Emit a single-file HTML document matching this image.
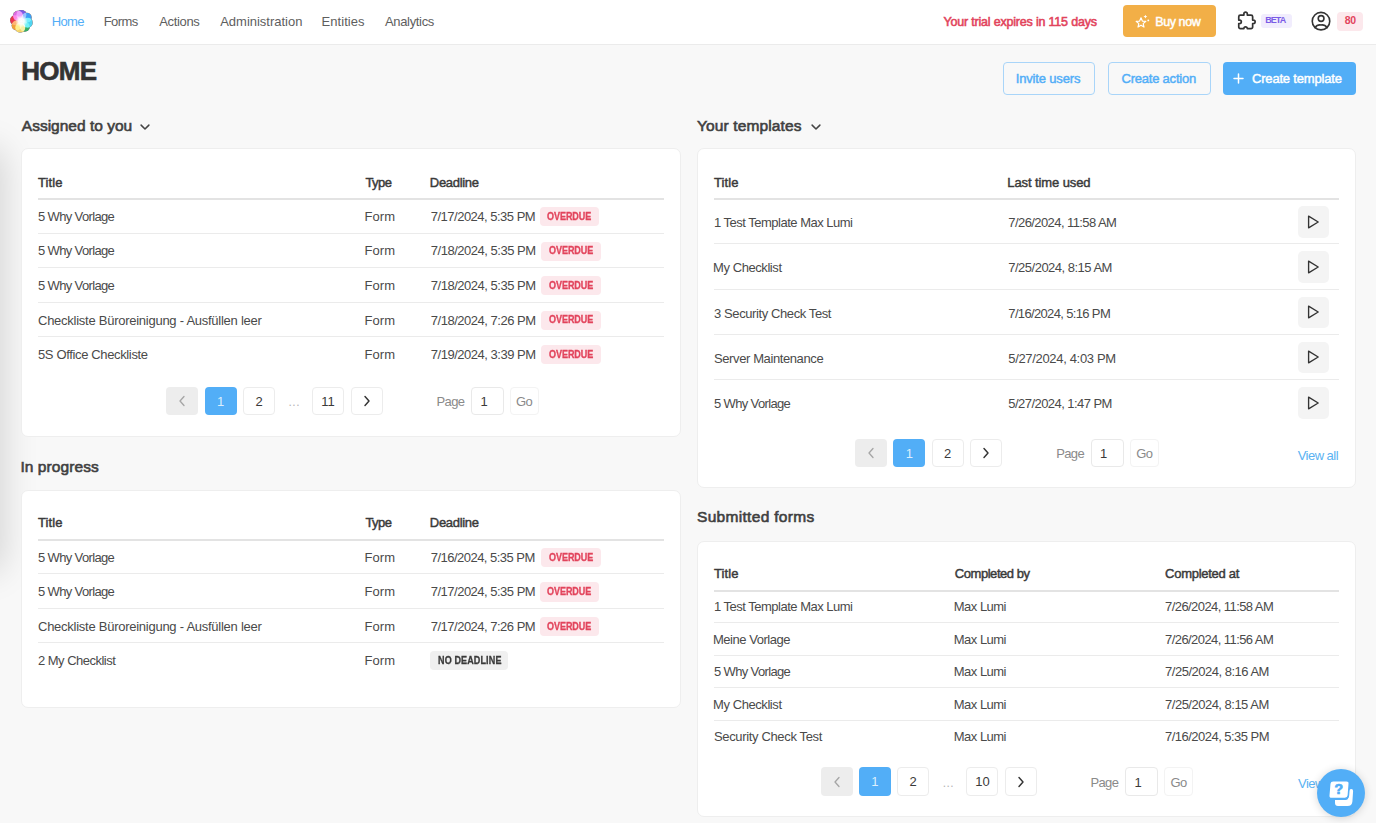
<!DOCTYPE html>
<html><head><meta charset="utf-8"><title>Home</title>
<style>
html,body{margin:0;padding:0;}
body{width:1376px;height:823px;overflow:hidden;background:#F8F8F8;position:relative;font-family:"Liberation Sans", sans-serif;}
.t{position:absolute;white-space:nowrap;line-height:1;}
.r{position:absolute;}
.c{text-align:center;}
</style></head><body>
<div class="r" style="left:-30px;top:150px;width:30px;height:420px;border-radius:15px;box-shadow:0 0 34px 4px rgba(0,0,0,0.15)"></div>
<div class="r" style="left:0.0px;top:0.0px;width:1376.0px;height:44.0px;background:#fff;border-bottom:1px solid #EBEBEB;"></div>
<svg class="r" style="left:9px;top:9px" width="25" height="25" viewBox="0 0 25 25">
<defs><mask id="lm"><circle cx="12.40" cy="5.90" r="5.0" fill="#fff"/><circle cx="17.64" cy="8.63" r="5.0" fill="#fff"/><circle cx="18.66" cy="13.63" r="5.0" fill="#fff"/><circle cx="15.79" cy="17.73" r="5.0" fill="#fff"/><circle cx="11.29" cy="18.60" r="5.0" fill="#fff"/><circle cx="7.64" cy="16.58" r="5.0" fill="#fff"/><circle cx="6.10" cy="11.19" r="5.0" fill="#fff"/><circle cx="9.01" cy="6.87" r="5.0" fill="#fff"/></mask>
<radialGradient id="lg"><stop offset="0.45" stop-color="#fff" stop-opacity="0.95"/><stop offset="1" stop-color="#fff" stop-opacity="0"/></radialGradient></defs>
<g mask="url(#lm)" style="isolation:isolate"><rect x="0" y="0" width="25" height="25" fill="#000"/><circle cx="12.40" cy="5.90" r="5.0" fill="#7B5BE3" style="mix-blend-mode:screen"/><circle cx="17.64" cy="8.63" r="5.0" fill="#3D9EF5" style="mix-blend-mode:screen"/><circle cx="18.66" cy="13.63" r="5.0" fill="#4FD5F2" style="mix-blend-mode:screen"/><circle cx="15.79" cy="17.73" r="5.0" fill="#36AE68" style="mix-blend-mode:screen"/><circle cx="11.29" cy="18.60" r="5.0" fill="#F5D46A" style="mix-blend-mode:screen"/><circle cx="7.64" cy="16.58" r="5.0" fill="#F2A23A" style="mix-blend-mode:screen"/><circle cx="6.10" cy="11.19" r="5.0" fill="#E8374E" style="mix-blend-mode:screen"/><circle cx="9.01" cy="6.87" r="5.0" fill="#DC6AE0" style="mix-blend-mode:screen"/></g><circle cx="12.4" cy="12.3" r="6.2" fill="url(#lg)"/>
</svg>
<div class="t" style="left:51.80px;top:15.40px;font-size:13px;font-weight:400;color:#52AEF7;letter-spacing:-0.649px;">Home</div>
<div class="t" style="left:103.70px;top:15.40px;font-size:13px;font-weight:400;color:#5e5e5e;letter-spacing:-0.557px;">Forms</div>
<div class="t" style="left:159.20px;top:15.40px;font-size:13px;font-weight:400;color:#5e5e5e;letter-spacing:-0.338px;">Actions</div>
<div class="t" style="left:220.20px;top:15.40px;font-size:13px;font-weight:400;color:#5e5e5e;letter-spacing:-0.011px;">Administration</div>
<div class="t" style="left:321.60px;top:15.40px;font-size:13px;font-weight:400;color:#5e5e5e;letter-spacing:0.038px;">Entities</div>
<div class="t" style="left:385.00px;top:15.40px;font-size:13px;font-weight:400;color:#5e5e5e;letter-spacing:-0.340px;">Analytics</div>
<div class="t" style="left:943.40px;top:15.62px;font-size:12.5px;font-weight:400;-webkit-text-stroke:0.45px #E2445C;color:#E2445C;letter-spacing:-0.190px;-webkit-text-stroke:0.55px #E2445C;">Your trial expires in 115 days</div>
<div class="r" style="left:1123.0px;top:5.0px;width:93.0px;height:32.0px;background:#F2AF47;border-radius:4px;"></div>
<svg class="r" style="left:1130px;top:10px" width="25" height="22" viewBox="1130 10 25 22" fill="none" stroke="#fff" stroke-width="1.2" stroke-linejoin="round">
<path d="M1141.00,17.80 L1142.35,21.04 L1145.85,21.32 L1143.19,23.61 L1144.00,27.03 L1141.00,25.20 L1138.00,27.03 L1138.81,23.61 L1136.15,21.32 L1139.65,21.04 Z"/>
<path d="M1145.4,14.700000000000001 Q1145.7,16.3 1147.3000000000002,16.6 Q1145.7,16.900000000000002 1145.4,18.5 Q1145.1000000000001,16.900000000000002 1143.5,16.6 Q1145.1000000000001,16.3 1145.4,14.700000000000001 Z" fill="#fff" stroke="none"/>
<circle cx="1148.3" cy="20.4" r="0.95" fill="#fff" stroke="none"/>
</svg>
<div class="t" style="left:1155.20px;top:15.62px;font-size:12.5px;font-weight:400;-webkit-text-stroke:0.45px #fff;color:#fff;letter-spacing:-0.394px;">Buy now</div>
<svg class="r" style="left:1230px;top:0px" width="110" height="44" viewBox="1230 0 110 44" fill="none" stroke="#333" stroke-width="1.7" stroke-linecap="round" stroke-linejoin="round">
<path d="M1240.35,15.05 H1243.8999999999999 V13.75 A1.7 1.7 0 0 1 1247.3,13.75 V15.05 H1251.0500000000002 A1.6 1.6 0 0 1 1252.65,16.650000000000002 V20.1 H1253.45 A1.7 1.7 0 0 1 1253.45,23.5 H1252.65 V26.95 A1.6 1.6 0 0 1 1251.0500000000002,28.55 H1247.3 V28.55 A1.7 1.7 0 0 0 1243.8999999999999,28.55 V28.55 H1240.35 A1.6 1.6 0 0 1 1238.75,26.95 V23.5 H1239.65 A1.7 1.7 0 0 0 1239.65,20.1 H1238.75 V16.650000000000002 A1.6 1.6 0 0 1 1240.35,15.05 Z"/>
<circle cx="1321" cy="21.15" r="8.75" stroke-width="1.6"/><circle cx="1321.1" cy="18.5" r="2.85" stroke-width="1.6"/>
<path d="M1315 27.7 Q1317.2 24.4 1321 25 Q1324.8 24.4 1327.1 27.7" stroke-width="1.6"/>
</svg>
<div class="r" style="left:1260.6px;top:13.9px;width:31.0px;height:14.0px;background:#F1EDFD;border-radius:3px;"></div>
<div class="t" style="left:1265.20px;top:16.18px;font-size:9px;font-weight:700;color:#7A5CE6;letter-spacing:-0.911px;">BETA</div>
<div class="r" style="left:1337.4px;top:11.6px;width:25.9px;height:19.1px;background:#FCE8EC;border-radius:4px;"></div>
<div class="t" style="left:1344.80px;top:15.31px;font-size:10.5px;font-weight:700;color:#E2445C;letter-spacing:-0.440px;">80</div>
<div class="t" style="left:21.30px;top:58.39px;font-size:26px;font-weight:700;color:#333;letter-spacing:-0.753px;-webkit-text-stroke:0.6px #333;">HOME</div>
<div class="r" style="left:1003.0px;top:62.0px;width:92.0px;height:33.0px;background:#fff0;border:1px solid #A9D5F9;border-radius:4px;box-sizing:border-box;"></div>
<div class="t" style="left:1015.70px;top:72.40px;font-size:13px;font-weight:400;-webkit-text-stroke:0.45px #52AEF7;color:#52AEF7;letter-spacing:-0.157px;">Invite users</div>
<div class="r" style="left:1107.5px;top:62.0px;width:103.0px;height:33.0px;background:#fff0;border:1px solid #A9D5F9;border-radius:4px;box-sizing:border-box;"></div>
<div class="t" style="left:1121.50px;top:72.40px;font-size:13px;font-weight:400;-webkit-text-stroke:0.45px #52AEF7;color:#52AEF7;letter-spacing:-0.220px;">Create action</div>
<div class="r" style="left:1223.0px;top:62.0px;width:132.5px;height:32.5px;background:#52AEF7;border-radius:4px;"></div>
<svg class="r" style="left:1233px;top:73px" width="11" height="11" viewBox="0 0 11 11" stroke="#fff" stroke-width="1.5" stroke-linecap="round"><path d="M5.5 1v9M1 5.5h9"/></svg>
<div class="t" style="left:1252.00px;top:72.40px;font-size:13px;font-weight:400;-webkit-text-stroke:0.45px #fff;color:#fff;letter-spacing:-0.187px;">Create template</div>
<div class="t" style="left:21.80px;top:118.08px;font-size:15.5px;font-weight:400;-webkit-text-stroke:0.6px #404040;color:#404040;letter-spacing:0.009px;">Assigned to you</div>
<svg class="r" style="left:140.3px;top:123.5px" width="11" height="7" viewBox="0 0 11 7" fill="none" stroke="#444" stroke-width="1.5" stroke-linecap="round" stroke-linejoin="round"><path d="M1.1 1.1L5.0 5.0L8.9 1.1"/></svg>
<div class="r" style="left:21.0px;top:148.0px;width:659.5px;height:288.5px;background:#fff;border:1px solid #EEEEEE;border-radius:7px;box-sizing:border-box;"></div>
<div class="t" style="left:38.00px;top:176.00px;font-size:13px;font-weight:400;-webkit-text-stroke:0.45px #3a3a3a;color:#3a3a3a;letter-spacing:0.126px;">Title</div>
<div class="t" style="left:365.40px;top:176.00px;font-size:13px;font-weight:400;-webkit-text-stroke:0.45px #3a3a3a;color:#3a3a3a;letter-spacing:-0.568px;">Type</div>
<div class="t" style="left:429.80px;top:176.00px;font-size:13px;font-weight:400;-webkit-text-stroke:0.45px #3a3a3a;color:#3a3a3a;letter-spacing:-0.305px;">Deadline</div>
<div class="r" style="left:38.0px;top:198.0px;width:625.5px;height:2.0px;background:#E3E3E3;"></div>
<div class="t" style="left:38.00px;top:209.90px;font-size:13px;font-weight:400;color:#4a4a4a;letter-spacing:-0.643px;">5 Why Vorlage</div>
<div class="t" style="left:364.40px;top:209.90px;font-size:13px;font-weight:400;color:#4a4a4a;letter-spacing:0.100px;">Form</div>
<div class="t" style="left:430.80px;top:209.90px;font-size:13px;font-weight:400;color:#4a4a4a;letter-spacing:-0.508px;">7/17/2024, 5:35 PM</div>
<div class="r" style="left:539.7px;top:207.0px;width:59.6px;height:19.3px;background:#FCE8EC;border-radius:4px;"></div>
<div class="t" style="left:547.30px;top:211.84px;font-size:10px;font-weight:700;color:#E2445C;letter-spacing:-0.038px;-webkit-text-stroke:0.3px #E2445C;transform:scaleX(0.9);transform-origin:0 0;">OVERDUE</div>
<div class="r" style="left:38.0px;top:232.6px;width:625.5px;height:1.0px;background:#EBEBEB;"></div>
<div class="t" style="left:38.00px;top:244.45px;font-size:13px;font-weight:400;color:#4a4a4a;letter-spacing:-0.643px;">5 Why Vorlage</div>
<div class="t" style="left:364.40px;top:244.45px;font-size:13px;font-weight:400;color:#4a4a4a;letter-spacing:0.100px;">Form</div>
<div class="t" style="left:430.80px;top:244.45px;font-size:13px;font-weight:400;color:#4a4a4a;letter-spacing:-0.479px;">7/18/2024, 5:35 PM</div>
<div class="r" style="left:541.3px;top:241.5px;width:59.6px;height:19.3px;background:#FCE8EC;border-radius:4px;"></div>
<div class="t" style="left:548.90px;top:246.38px;font-size:10px;font-weight:700;color:#E2445C;letter-spacing:-0.038px;-webkit-text-stroke:0.3px #E2445C;transform:scaleX(0.9);transform-origin:0 0;">OVERDUE</div>
<div class="r" style="left:38.0px;top:267.1px;width:625.5px;height:1.0px;background:#EBEBEB;"></div>
<div class="t" style="left:38.00px;top:279.00px;font-size:13px;font-weight:400;color:#4a4a4a;letter-spacing:-0.643px;">5 Why Vorlage</div>
<div class="t" style="left:364.40px;top:279.00px;font-size:13px;font-weight:400;color:#4a4a4a;letter-spacing:0.100px;">Form</div>
<div class="t" style="left:430.80px;top:279.00px;font-size:13px;font-weight:400;color:#4a4a4a;letter-spacing:-0.479px;">7/18/2024, 5:35 PM</div>
<div class="r" style="left:541.3px;top:276.1px;width:59.6px;height:19.3px;background:#FCE8EC;border-radius:4px;"></div>
<div class="t" style="left:548.90px;top:280.94px;font-size:10px;font-weight:700;color:#E2445C;letter-spacing:-0.038px;-webkit-text-stroke:0.3px #E2445C;transform:scaleX(0.9);transform-origin:0 0;">OVERDUE</div>
<div class="r" style="left:38.0px;top:301.6px;width:625.5px;height:1.0px;background:#EBEBEB;"></div>
<div class="t" style="left:38.00px;top:313.55px;font-size:13px;font-weight:400;color:#4a4a4a;letter-spacing:-0.258px;">Checkliste Büroreinigung - Ausfüllen leer</div>
<div class="t" style="left:364.40px;top:313.55px;font-size:13px;font-weight:400;color:#4a4a4a;letter-spacing:0.100px;">Form</div>
<div class="t" style="left:430.80px;top:313.55px;font-size:13px;font-weight:400;color:#4a4a4a;letter-spacing:-0.479px;">7/18/2024, 7:26 PM</div>
<div class="r" style="left:541.3px;top:310.7px;width:59.6px;height:19.3px;background:#FCE8EC;border-radius:4px;"></div>
<div class="t" style="left:548.90px;top:315.49px;font-size:10px;font-weight:700;color:#E2445C;letter-spacing:-0.038px;-webkit-text-stroke:0.3px #E2445C;transform:scaleX(0.9);transform-origin:0 0;">OVERDUE</div>
<div class="r" style="left:38.0px;top:336.2px;width:625.5px;height:1.0px;background:#EBEBEB;"></div>
<div class="t" style="left:38.00px;top:348.10px;font-size:13px;font-weight:400;color:#4a4a4a;letter-spacing:-0.357px;">5S Office Checkliste</div>
<div class="t" style="left:364.40px;top:348.10px;font-size:13px;font-weight:400;color:#4a4a4a;letter-spacing:0.100px;">Form</div>
<div class="t" style="left:430.80px;top:348.10px;font-size:13px;font-weight:400;color:#4a4a4a;letter-spacing:-0.479px;">7/19/2024, 3:39 PM</div>
<div class="r" style="left:541.3px;top:345.2px;width:59.6px;height:19.3px;background:#FCE8EC;border-radius:4px;"></div>
<div class="t" style="left:548.90px;top:350.04px;font-size:10px;font-weight:700;color:#E2445C;letter-spacing:-0.038px;-webkit-text-stroke:0.3px #E2445C;transform:scaleX(0.9);transform-origin:0 0;">OVERDUE</div>
<div class="r" style="left:166.4px;top:386.5px;width:32.0px;height:28.5px;background:#EDEDED;border-radius:4px;"></div>
<svg class="r" style="left:178.4px;top:394.8px" width="8" height="12" viewBox="0 0 8 12" fill="none" stroke="#A5A5A5" stroke-width="1.3" stroke-linecap="round" stroke-linejoin="round"><path d="M6 1.5L2 6L6 10.5"/></svg>
<div class="r" style="left:204.6px;top:386.5px;width:32.0px;height:28.5px;background:#52AEF7;border-radius:4px;"></div>
<div class="r c" style="left:204.6px;top:387.5px;width:32px;height:28.5px;line-height:28.5px;font-size:13px;color:#DCEEFD">1</div>
<div class="r" style="left:243.2px;top:386.5px;width:32.0px;height:28.5px;background:#fff;border:1px solid #ECECEC;border-radius:4px;box-sizing:border-box;"></div>
<div class="r c" style="left:243.2px;top:387.5px;width:32px;height:28.5px;line-height:28.5px;font-size:13px;color:#3a3a3a">2</div>
<div class="t" style="left:288.50px;top:396.34px;font-size:12px;font-weight:400;color:#B5B5B5;letter-spacing:0.500px;">...</div>
<div class="r" style="left:312.1px;top:386.5px;width:32.0px;height:28.5px;background:#fff;border:1px solid #ECECEC;border-radius:4px;box-sizing:border-box;"></div>
<div class="r c" style="left:312.1px;top:387.5px;width:32px;height:28.5px;line-height:28.5px;font-size:13px;color:#3a3a3a">11</div>
<div class="r" style="left:350.5px;top:386.5px;width:32.0px;height:28.5px;background:#fff;border:1px solid #ECECEC;border-radius:4px;box-sizing:border-box;"></div>
<svg class="r" style="left:362.5px;top:394.8px" width="8" height="12" viewBox="0 0 8 12" fill="none" stroke="#333" stroke-width="1.45" stroke-linecap="round" stroke-linejoin="round"><path d="M2 1.5L6 6L2 10.5"/></svg>
<div class="t" style="left:436.50px;top:395.10px;font-size:13px;font-weight:400;color:#8A8A8A;letter-spacing:-0.610px;">Page</div>
<div class="r" style="left:471.4px;top:386.5px;width:32.5px;height:28.5px;background:#fff;border:1px solid #E9E9E9;border-radius:4px;box-sizing:border-box;"></div>
<div class="t" style="left:480.40px;top:395.10px;font-size:13px;font-weight:400;color:#3a3a3a;letter-spacing:0.000px;">1</div>
<div class="r" style="left:509.5px;top:386.5px;width:29.0px;height:28.5px;background:#fff;border:1px solid #F3F3F3;border-radius:4px;box-sizing:border-box;"></div>
<div class="t" style="left:516.00px;top:395.10px;font-size:13px;font-weight:400;color:#8A8A8A;letter-spacing:-0.500px;">Go</div>
<div class="t" style="left:20.40px;top:458.58px;font-size:15.5px;font-weight:400;-webkit-text-stroke:0.6px #404040;color:#404040;letter-spacing:0.081px;">In progress</div>
<div class="r" style="left:21.0px;top:489.5px;width:659.5px;height:218.0px;background:#fff;border:1px solid #EEEEEE;border-radius:7px;box-sizing:border-box;"></div>
<div class="t" style="left:38.00px;top:516.40px;font-size:13px;font-weight:400;-webkit-text-stroke:0.45px #3a3a3a;color:#3a3a3a;letter-spacing:0.126px;">Title</div>
<div class="t" style="left:365.40px;top:516.40px;font-size:13px;font-weight:400;-webkit-text-stroke:0.45px #3a3a3a;color:#3a3a3a;letter-spacing:-0.568px;">Type</div>
<div class="t" style="left:429.80px;top:516.40px;font-size:13px;font-weight:400;-webkit-text-stroke:0.45px #3a3a3a;color:#3a3a3a;letter-spacing:-0.305px;">Deadline</div>
<div class="r" style="left:38.0px;top:539.0px;width:625.5px;height:2.0px;background:#E3E3E3;"></div>
<div class="t" style="left:38.00px;top:550.80px;font-size:13px;font-weight:400;color:#4a4a4a;letter-spacing:-0.643px;">5 Why Vorlage</div>
<div class="t" style="left:364.40px;top:550.80px;font-size:13px;font-weight:400;color:#4a4a4a;letter-spacing:0.100px;">Form</div>
<div class="t" style="left:430.80px;top:550.80px;font-size:13px;font-weight:400;color:#4a4a4a;letter-spacing:-0.532px;">7/16/2024, 5:35 PM</div>
<div class="r" style="left:541.3px;top:547.9px;width:59.6px;height:19.3px;background:#FCE8EC;border-radius:4px;"></div>
<div class="t" style="left:548.90px;top:552.73px;font-size:10px;font-weight:700;color:#E2445C;letter-spacing:-0.038px;-webkit-text-stroke:0.3px #E2445C;transform:scaleX(0.9);transform-origin:0 0;">OVERDUE</div>
<div class="r" style="left:38.0px;top:573.3px;width:625.5px;height:1.0px;background:#EBEBEB;"></div>
<div class="t" style="left:38.00px;top:585.20px;font-size:13px;font-weight:400;color:#4a4a4a;letter-spacing:-0.643px;">5 Why Vorlage</div>
<div class="t" style="left:364.40px;top:585.20px;font-size:13px;font-weight:400;color:#4a4a4a;letter-spacing:0.100px;">Form</div>
<div class="t" style="left:430.80px;top:585.20px;font-size:13px;font-weight:400;color:#4a4a4a;letter-spacing:-0.508px;">7/17/2024, 5:35 PM</div>
<div class="r" style="left:539.7px;top:582.3px;width:59.6px;height:19.3px;background:#FCE8EC;border-radius:4px;"></div>
<div class="t" style="left:547.30px;top:587.13px;font-size:10px;font-weight:700;color:#E2445C;letter-spacing:-0.038px;-webkit-text-stroke:0.3px #E2445C;transform:scaleX(0.9);transform-origin:0 0;">OVERDUE</div>
<div class="r" style="left:38.0px;top:607.7px;width:625.5px;height:1.0px;background:#EBEBEB;"></div>
<div class="t" style="left:38.00px;top:619.60px;font-size:13px;font-weight:400;color:#4a4a4a;letter-spacing:-0.258px;">Checkliste Büroreinigung - Ausfüllen leer</div>
<div class="t" style="left:364.40px;top:619.60px;font-size:13px;font-weight:400;color:#4a4a4a;letter-spacing:0.100px;">Form</div>
<div class="t" style="left:430.80px;top:619.60px;font-size:13px;font-weight:400;color:#4a4a4a;letter-spacing:-0.508px;">7/17/2024, 7:26 PM</div>
<div class="r" style="left:539.7px;top:616.7px;width:59.6px;height:19.3px;background:#FCE8EC;border-radius:4px;"></div>
<div class="t" style="left:547.30px;top:621.53px;font-size:10px;font-weight:700;color:#E2445C;letter-spacing:-0.038px;-webkit-text-stroke:0.3px #E2445C;transform:scaleX(0.9);transform-origin:0 0;">OVERDUE</div>
<div class="r" style="left:38.0px;top:642.1px;width:625.5px;height:1.0px;background:#EBEBEB;"></div>
<div class="t" style="left:38.00px;top:654.00px;font-size:13px;font-weight:400;color:#4a4a4a;letter-spacing:-0.516px;">2 My Checklist</div>
<div class="t" style="left:364.40px;top:654.00px;font-size:13px;font-weight:400;color:#4a4a4a;letter-spacing:0.100px;">Form</div>
<div class="r" style="left:430.3px;top:651.1px;width:78.2px;height:19.2px;background:#F0F0F0;border-radius:4px;"></div>
<div class="t" style="left:437.80px;top:655.93px;font-size:10px;font-weight:700;color:#3a3a3a;letter-spacing:0.156px;-webkit-text-stroke:0.3px #3a3a3a;transform:scaleX(0.9);transform-origin:0 0;">NO DEADLINE</div>
<div class="t" style="left:697.00px;top:118.08px;font-size:15.5px;font-weight:400;-webkit-text-stroke:0.6px #404040;color:#404040;letter-spacing:0.125px;">Your templates</div>
<svg class="r" style="left:810.5px;top:123.5px" width="11" height="7" viewBox="0 0 11 7" fill="none" stroke="#444" stroke-width="1.5" stroke-linecap="round" stroke-linejoin="round"><path d="M1.1 1.1L5.0 5.0L8.9 1.1"/></svg>
<div class="r" style="left:696.5px;top:148.0px;width:659.5px;height:339.5px;background:#fff;border:1px solid #EEEEEE;border-radius:7px;box-sizing:border-box;"></div>
<div class="t" style="left:714.00px;top:176.00px;font-size:13px;font-weight:400;-webkit-text-stroke:0.45px #3a3a3a;color:#3a3a3a;letter-spacing:0.126px;">Title</div>
<div class="t" style="left:1007.30px;top:176.00px;font-size:13px;font-weight:400;-webkit-text-stroke:0.45px #3a3a3a;color:#3a3a3a;letter-spacing:-0.097px;">Last time used</div>
<div class="r" style="left:714.0px;top:198.0px;width:624.5px;height:2.0px;background:#E3E3E3;"></div>
<div class="t" style="left:714.00px;top:215.90px;font-size:13px;font-weight:400;color:#4a4a4a;letter-spacing:-0.501px;">1 Test Template Max Lumi</div>
<div class="t" style="left:1008.30px;top:215.90px;font-size:13px;font-weight:400;color:#4a4a4a;letter-spacing:-0.578px;">7/26/2024, 11:58 AM</div>
<div class="r" style="left:1298.0px;top:206.0px;width:31.0px;height:31.5px;background:#F4F4F4;border-radius:5px;"></div>
<svg class="r" style="left:1305px;top:213.5px" width="16" height="16" viewBox="0 0 16 16" fill="none" stroke="#333" stroke-width="1.35" stroke-linejoin="round" stroke-linecap="round"><path d="M3.6 2.2v11.6l9.6-5.8z"/></svg>
<div class="r" style="left:714.0px;top:243.3px;width:624.5px;height:1.0px;background:#EBEBEB;"></div>
<div class="t" style="left:713.00px;top:261.20px;font-size:13px;font-weight:400;color:#4a4a4a;letter-spacing:-0.424px;">My Checklist</div>
<div class="t" style="left:1008.30px;top:261.20px;font-size:13px;font-weight:400;color:#4a4a4a;letter-spacing:-0.508px;">7/25/2024, 8:15 AM</div>
<div class="r" style="left:1298.0px;top:251.3px;width:31.0px;height:31.5px;background:#F4F4F4;border-radius:5px;"></div>
<svg class="r" style="left:1305px;top:258.8px" width="16" height="16" viewBox="0 0 16 16" fill="none" stroke="#333" stroke-width="1.35" stroke-linejoin="round" stroke-linecap="round"><path d="M3.6 2.2v11.6l9.6-5.8z"/></svg>
<div class="r" style="left:714.0px;top:288.6px;width:624.5px;height:1.0px;background:#EBEBEB;"></div>
<div class="t" style="left:714.00px;top:306.50px;font-size:13px;font-weight:400;color:#4a4a4a;letter-spacing:-0.400px;">3 Security Check Test</div>
<div class="t" style="left:1008.30px;top:306.50px;font-size:13px;font-weight:400;color:#4a4a4a;letter-spacing:-0.650px;">7/16/2024, 5:16 PM</div>
<div class="r" style="left:1298.0px;top:296.6px;width:31.0px;height:31.5px;background:#F4F4F4;border-radius:5px;"></div>
<svg class="r" style="left:1305px;top:304.1px" width="16" height="16" viewBox="0 0 16 16" fill="none" stroke="#333" stroke-width="1.35" stroke-linejoin="round" stroke-linecap="round"><path d="M3.6 2.2v11.6l9.6-5.8z"/></svg>
<div class="r" style="left:714.0px;top:333.9px;width:624.5px;height:1.0px;background:#EBEBEB;"></div>
<div class="t" style="left:714.00px;top:351.80px;font-size:13px;font-weight:400;color:#4a4a4a;letter-spacing:-0.395px;">Server Maintenance</div>
<div class="t" style="left:1008.30px;top:351.80px;font-size:13px;font-weight:400;color:#4a4a4a;letter-spacing:-0.332px;">5/27/2024, 4:03 PM</div>
<div class="r" style="left:1298.0px;top:341.9px;width:31.0px;height:31.5px;background:#F4F4F4;border-radius:5px;"></div>
<svg class="r" style="left:1305px;top:349.4px" width="16" height="16" viewBox="0 0 16 16" fill="none" stroke="#333" stroke-width="1.35" stroke-linejoin="round" stroke-linecap="round"><path d="M3.6 2.2v11.6l9.6-5.8z"/></svg>
<div class="r" style="left:714.0px;top:379.2px;width:624.5px;height:1.0px;background:#EBEBEB;"></div>
<div class="t" style="left:714.00px;top:397.10px;font-size:13px;font-weight:400;color:#4a4a4a;letter-spacing:-0.643px;">5 Why Vorlage</div>
<div class="t" style="left:1008.30px;top:397.10px;font-size:13px;font-weight:400;color:#4a4a4a;letter-spacing:-0.550px;">5/27/2024, 1:47 PM</div>
<div class="r" style="left:1298.0px;top:387.2px;width:31.0px;height:31.5px;background:#F4F4F4;border-radius:5px;"></div>
<svg class="r" style="left:1305px;top:394.7px" width="16" height="16" viewBox="0 0 16 16" fill="none" stroke="#333" stroke-width="1.35" stroke-linejoin="round" stroke-linecap="round"><path d="M3.6 2.2v11.6l9.6-5.8z"/></svg>
<div class="r" style="left:855.3px;top:438.8px;width:32.0px;height:28.5px;background:#EDEDED;border-radius:4px;"></div>
<svg class="r" style="left:867.3px;top:447.1px" width="8" height="12" viewBox="0 0 8 12" fill="none" stroke="#A5A5A5" stroke-width="1.3" stroke-linecap="round" stroke-linejoin="round"><path d="M6 1.5L2 6L6 10.5"/></svg>
<div class="r" style="left:893.4px;top:438.8px;width:32.0px;height:28.5px;background:#52AEF7;border-radius:4px;"></div>
<div class="r c" style="left:893.4px;top:439.8px;width:32px;height:28.5px;line-height:28.5px;font-size:13px;color:#DCEEFD">1</div>
<div class="r" style="left:931.5px;top:438.8px;width:32.0px;height:28.5px;background:#fff;border:1px solid #ECECEC;border-radius:4px;box-sizing:border-box;"></div>
<div class="r c" style="left:931.5px;top:439.8px;width:32px;height:28.5px;line-height:28.5px;font-size:13px;color:#3a3a3a">2</div>
<div class="r" style="left:970.4px;top:438.8px;width:32.0px;height:28.5px;background:#fff;border:1px solid #ECECEC;border-radius:4px;box-sizing:border-box;"></div>
<svg class="r" style="left:982.4px;top:447.1px" width="8" height="12" viewBox="0 0 8 12" fill="none" stroke="#333" stroke-width="1.45" stroke-linecap="round" stroke-linejoin="round"><path d="M2 1.5L6 6L2 10.5"/></svg>
<div class="t" style="left:1056.20px;top:447.40px;font-size:13px;font-weight:400;color:#8A8A8A;letter-spacing:-0.610px;">Page</div>
<div class="r" style="left:1091.1px;top:438.8px;width:32.5px;height:28.5px;background:#fff;border:1px solid #E9E9E9;border-radius:4px;box-sizing:border-box;"></div>
<div class="t" style="left:1100.10px;top:447.40px;font-size:13px;font-weight:400;color:#3a3a3a;letter-spacing:0.000px;">1</div>
<div class="r" style="left:1129.7px;top:438.8px;width:29.0px;height:28.5px;background:#fff;border:1px solid #F3F3F3;border-radius:4px;box-sizing:border-box;"></div>
<div class="t" style="left:1136.20px;top:447.40px;font-size:13px;font-weight:400;color:#8A8A8A;letter-spacing:-0.500px;">Go</div>
<div class="t" style="left:1297.70px;top:448.80px;font-size:13px;font-weight:400;color:#5AB2F2;letter-spacing:-0.525px;">View all</div>
<div class="t" style="left:697.00px;top:508.98px;font-size:15.5px;font-weight:400;-webkit-text-stroke:0.6px #404040;color:#404040;letter-spacing:0.308px;">Submitted forms</div>
<div class="r" style="left:696.5px;top:540.5px;width:659.5px;height:276.5px;background:#fff;border:1px solid #EEEEEE;border-radius:7px;box-sizing:border-box;"></div>
<div class="t" style="left:714.00px;top:567.20px;font-size:13px;font-weight:400;-webkit-text-stroke:0.45px #3a3a3a;color:#3a3a3a;letter-spacing:0.126px;">Title</div>
<div class="t" style="left:954.80px;top:567.20px;font-size:13px;font-weight:400;-webkit-text-stroke:0.45px #3a3a3a;color:#3a3a3a;letter-spacing:-0.451px;">Completed by</div>
<div class="t" style="left:1165.10px;top:567.20px;font-size:13px;font-weight:400;-webkit-text-stroke:0.45px #3a3a3a;color:#3a3a3a;letter-spacing:-0.278px;">Completed at</div>
<div class="r" style="left:714.0px;top:589.5px;width:624.5px;height:2.0px;background:#E3E3E3;"></div>
<div class="t" style="left:714.00px;top:600.30px;font-size:13px;font-weight:400;color:#4a4a4a;letter-spacing:-0.501px;">1 Test Template Max Lumi</div>
<div class="t" style="left:953.80px;top:600.30px;font-size:13px;font-weight:400;color:#4a4a4a;letter-spacing:-0.523px;">Max Lumi</div>
<div class="t" style="left:1165.10px;top:600.30px;font-size:13px;font-weight:400;color:#4a4a4a;letter-spacing:-0.578px;">7/26/2024, 11:58 AM</div>
<div class="r" style="left:714.0px;top:622.0px;width:624.5px;height:1.0px;background:#EBEBEB;"></div>
<div class="t" style="left:713.00px;top:632.80px;font-size:13px;font-weight:400;color:#4a4a4a;letter-spacing:-0.473px;">Meine Vorlage</div>
<div class="t" style="left:953.80px;top:632.80px;font-size:13px;font-weight:400;color:#4a4a4a;letter-spacing:-0.523px;">Max Lumi</div>
<div class="t" style="left:1165.10px;top:632.80px;font-size:13px;font-weight:400;color:#4a4a4a;letter-spacing:-0.578px;">7/26/2024, 11:56 AM</div>
<div class="r" style="left:714.0px;top:654.5px;width:624.5px;height:1.0px;background:#EBEBEB;"></div>
<div class="t" style="left:714.00px;top:665.30px;font-size:13px;font-weight:400;color:#4a4a4a;letter-spacing:-0.643px;">5 Why Vorlage</div>
<div class="t" style="left:953.80px;top:665.30px;font-size:13px;font-weight:400;color:#4a4a4a;letter-spacing:-0.523px;">Max Lumi</div>
<div class="t" style="left:1165.10px;top:665.30px;font-size:13px;font-weight:400;color:#4a4a4a;letter-spacing:-0.497px;">7/25/2024, 8:16 AM</div>
<div class="r" style="left:714.0px;top:687.0px;width:624.5px;height:1.0px;background:#EBEBEB;"></div>
<div class="t" style="left:713.00px;top:697.80px;font-size:13px;font-weight:400;color:#4a4a4a;letter-spacing:-0.424px;">My Checklist</div>
<div class="t" style="left:953.80px;top:697.80px;font-size:13px;font-weight:400;color:#4a4a4a;letter-spacing:-0.523px;">Max Lumi</div>
<div class="t" style="left:1165.10px;top:697.80px;font-size:13px;font-weight:400;color:#4a4a4a;letter-spacing:-0.508px;">7/25/2024, 8:15 AM</div>
<div class="r" style="left:714.0px;top:719.5px;width:624.5px;height:1.0px;background:#EBEBEB;"></div>
<div class="t" style="left:714.00px;top:730.30px;font-size:13px;font-weight:400;color:#4a4a4a;letter-spacing:-0.348px;">Security Check Test</div>
<div class="t" style="left:953.80px;top:730.30px;font-size:13px;font-weight:400;color:#4a4a4a;letter-spacing:-0.523px;">Max Lumi</div>
<div class="t" style="left:1165.10px;top:730.30px;font-size:13px;font-weight:400;color:#4a4a4a;letter-spacing:-0.532px;">7/16/2024, 5:35 PM</div>
<div class="r" style="left:820.5px;top:767.2px;width:32.0px;height:28.5px;background:#EDEDED;border-radius:4px;"></div>
<svg class="r" style="left:832.5px;top:775.5px" width="8" height="12" viewBox="0 0 8 12" fill="none" stroke="#A5A5A5" stroke-width="1.3" stroke-linecap="round" stroke-linejoin="round"><path d="M6 1.5L2 6L6 10.5"/></svg>
<div class="r" style="left:858.8px;top:767.2px;width:32.0px;height:28.5px;background:#52AEF7;border-radius:4px;"></div>
<div class="r c" style="left:858.8px;top:768.2px;width:32px;height:28.5px;line-height:28.5px;font-size:13px;color:#DCEEFD">1</div>
<div class="r" style="left:897.2px;top:767.2px;width:32.0px;height:28.5px;background:#fff;border:1px solid #ECECEC;border-radius:4px;box-sizing:border-box;"></div>
<div class="r c" style="left:897.2px;top:768.2px;width:32px;height:28.5px;line-height:28.5px;font-size:13px;color:#3a3a3a">2</div>
<div class="t" style="left:942.70px;top:777.04px;font-size:12px;font-weight:400;color:#B5B5B5;letter-spacing:0.500px;">...</div>
<div class="r" style="left:966.4px;top:767.2px;width:32.0px;height:28.5px;background:#fff;border:1px solid #ECECEC;border-radius:4px;box-sizing:border-box;"></div>
<div class="r c" style="left:966.4px;top:768.2px;width:32px;height:28.5px;line-height:28.5px;font-size:13px;color:#3a3a3a">10</div>
<div class="r" style="left:1004.8px;top:767.2px;width:32.0px;height:28.5px;background:#fff;border:1px solid #ECECEC;border-radius:4px;box-sizing:border-box;"></div>
<svg class="r" style="left:1016.8px;top:775.5px" width="8" height="12" viewBox="0 0 8 12" fill="none" stroke="#333" stroke-width="1.45" stroke-linecap="round" stroke-linejoin="round"><path d="M2 1.5L6 6L2 10.5"/></svg>
<div class="t" style="left:1090.40px;top:775.80px;font-size:13px;font-weight:400;color:#8A8A8A;letter-spacing:-0.610px;">Page</div>
<div class="r" style="left:1125.4px;top:767.2px;width:32.5px;height:28.5px;background:#fff;border:1px solid #E9E9E9;border-radius:4px;box-sizing:border-box;"></div>
<div class="t" style="left:1134.40px;top:775.80px;font-size:13px;font-weight:400;color:#3a3a3a;letter-spacing:0.000px;">1</div>
<div class="r" style="left:1164.0px;top:767.2px;width:29.0px;height:28.5px;background:#fff;border:1px solid #F3F3F3;border-radius:4px;box-sizing:border-box;"></div>
<div class="t" style="left:1170.50px;top:775.80px;font-size:13px;font-weight:400;color:#8A8A8A;letter-spacing:-0.500px;">Go</div>
<div class="t" style="left:1298.00px;top:776.90px;font-size:13px;font-weight:400;color:#5AB2F2;letter-spacing:-0.525px;">View all</div>
<div class="r" style="left:1317px;top:769px;width:48px;height:48px;border-radius:50%;background:#52AEF7;box-shadow:0 1px 8px rgba(0,0,0,0.16)"></div>
<svg class="r" style="left:1317px;top:769px" width="48" height="48" viewBox="0 0 48 48">
<path d="M18 31 L28.5 31 Q31 31 31.3 28.5 L32 22 Q32.3 20 34.2 20 Q36.3 20 36.1 22.3 L35.4 32.5 Q35 37 30.5 37 L21 37 Q18 37 18 34 Z" fill="#fff"/>
<path d="M16.2 11.6 L29.4 11.6 Q32.6 11.6 32.3 14.8 L31.4 26.4 Q31.1 29.6 27.9 29.6 L14.6 29.6 Q11.4 29.6 11.7 26.4 L12.7 14.8 Q13 11.6 16.2 11.6 Z" fill="#fff" stroke="#52AEF7" stroke-width="1.6"/>
<text x="21.7" y="25.4" font-family="Liberation Sans" font-weight="700" font-size="14" fill="#52AEF7" stroke="#52AEF7" stroke-width="0.7" text-anchor="middle">?</text>
</svg>
</body></html>
